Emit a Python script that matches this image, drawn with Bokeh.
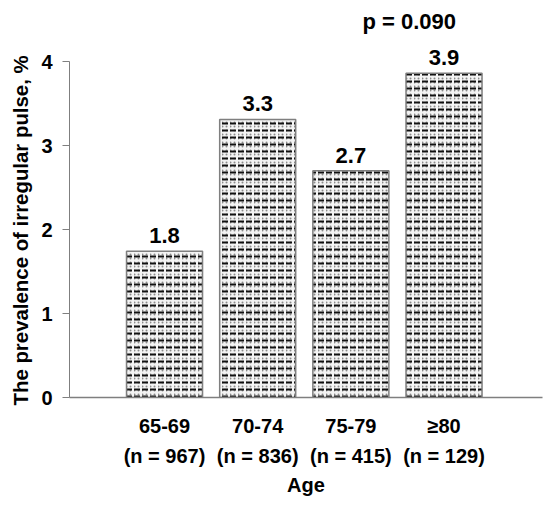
from bokeh.plotting import figure
from bokeh.models import ColumnDataSource, LabelSet, Range1d, FixedTicker, LinearAxis, Title
from bokeh.core.properties import value
from bokeh.embed import file_html
from bokeh.resources import INLINE

# ---- data ----
categories = ["65-69", "70-74", "75-79", "≥80"]
n_labels = ["(n = 967)", "(n = 836)", "(n = 415)", "(n = 129)"]
prevalence = [1.74, 3.31, 2.70, 3.86]
value_labels = ["1.8", "3.3", "2.7", "3.9"]
y_ticks = [0, 1, 2, 3, 4]
p_text = "p = 0.090"
y_title = "The prevalence of irregular pulse, %"
x_title = "Age"

FONT = "Liberation Sans"
GRAY = "#7f7f7f"

xs = list(range(len(categories)))
src = ColumnDataSource(dict(x=xs, top=prevalence, lab=value_labels))

p = figure(width=550, height=505, output_backend="svg", toolbar_location=None,
           x_range=Range1d(-1.02, 4.057), y_range=Range1d(0, 4.25),
           min_border_left=69, min_border_right=8, min_border_top=40,
           min_border_bottom=108)
p.outline_line_color = None
p.grid.visible = False

# title used for the p value
p.title.text = p_text
p.title.align = "left"
p.title.offset = 293
p.title.text_font = FONT
p.title.text_font_style = "bold"
p.title.text_font_size = "22px"
p.title.text_color = "black"
p.title.standoff = 13

# bars: light dotted base, dark dashes (lines broken by white gaps)
p.vbar(x="x", top="top", width=0.816, source=src, fill_color="#f2f2f2",
       line_color=None, hatch_pattern="dot", hatch_color="#8a8a8a",
       hatch_scale=4, hatch_weight=1)
p.vbar(x="x", top="top", width=0.816, source=src, fill_alpha=0,
       line_color=None, hatch_pattern="horizontal_line",
       hatch_color="#111111", hatch_scale=7, hatch_weight=2)
p.vbar(x="x", top="top", width=0.816, source=src, fill_alpha=0,
       line_color=None, hatch_pattern="vertical_line",
       hatch_color="#f4f4f4", hatch_scale=8, hatch_weight=2)
p.vbar(x="x", top="top", width=0.816, source=src, fill_alpha=0,
       line_color=GRAY, line_width=1.5)

# value labels above bars
p.add_layout(LabelSet(x="x", y="top", text="lab", source=src, y_offset=8,
                      text_align="center", text_baseline="alphabetic",
                      text_font=value(FONT), text_font_style="bold",
                      text_font_size="22px", text_color="black"))

# y axis
ya = p.yaxis[0]
ya.ticker = FixedTicker(ticks=y_ticks)
ya.bounds = (0, 4)
ya.axis_line_color = GRAY
ya.major_tick_line_color = GRAY
ya.minor_tick_line_color = None
ya.major_tick_out = 7
ya.major_tick_in = 0
ya.major_label_standoff = 10
ya.major_label_text_font = FONT
ya.major_label_text_font_style = "bold"
ya.major_label_text_font_size = "20px"
ya.major_label_text_color = "black"

# y axis title (as a left title so it can be centred on the 0-4 span)
p.add_layout(Title(text=y_title, align="left", offset=-8, standoff=13,
                   text_font=FONT, text_font_style="bold",
                   text_font_size="20.4px", text_color="black"), "left")

# x axis, first line: age groups
xa = p.xaxis[0]
xa.ticker = FixedTicker(ticks=xs)
xa.major_label_overrides = {i: c for i, c in zip(xs, categories)}
xa.axis_line_color = GRAY
xa.axis_line_width = 1.5
xa.major_tick_line_color = None
xa.minor_tick_line_color = None
xa.major_tick_out = 0
xa.major_tick_in = 0
xa.major_label_standoff = 17
xa.major_label_text_font = FONT
xa.major_label_text_font_style = "bold"
xa.major_label_text_font_size = "20px"
xa.major_label_text_color = "black"

# x axis, second line: sample sizes, plus axis title
xa2 = LinearAxis(ticker=FixedTicker(ticks=xs),
                 major_label_overrides={i: n for i, n in zip(xs, n_labels)})
xa2.axis_line_color = None
xa2.major_tick_line_color = None
xa2.minor_tick_line_color = None
xa2.major_tick_out = 0
xa2.major_tick_in = 0
xa2.major_label_standoff = 5
xa2.major_label_text_font = FONT
xa2.major_label_text_font_style = "bold"
xa2.major_label_text_font_size = "20px"
xa2.major_label_text_color = "black"
xa2.axis_label = x_title
xa2.axis_label_text_font = FONT
xa2.axis_label_text_font_style = "bold"
xa2.axis_label_text_font_size = "20px"
xa2.axis_label_text_color = "black"
xa2.axis_label_standoff = 4
p.add_layout(xa2, "below")

open("out.html", "w").write(file_html(p, INLINE))
